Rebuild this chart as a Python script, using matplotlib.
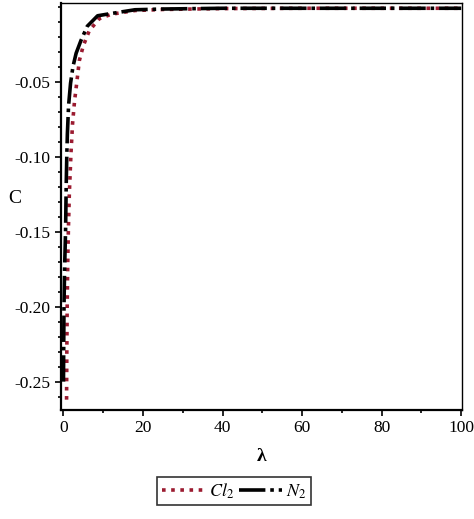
import matplotlib
matplotlib.use("Agg")
import matplotlib.pyplot as plt

# values
lam_cl2 = [0.8, 0.85, 0.95, 1.1, 1.25, 1.5, 1.9, 2.3, 2.8, 3.3, 4.0, 5.0, 6.5,
           9.0, 12.0, 18.0, 25.0, 40.0, 60.0, 80.0, 100.0]
c_cl2 = [-0.262, -0.235, -0.2, -0.17, -0.149, -0.124, -0.098, -0.078, -0.063,
         -0.052, -0.036, -0.026, -0.016, -0.008, -0.005, -0.0025, -0.0018,
         -0.0012, -0.001, -0.001, -0.001]

lam_n2 = [0.02, 0.15, 0.3, 0.55, 0.7, 0.85, 1.0, 1.3, 1.8, 2.4, 3.2, 4.4, 6.0,
          8.6, 12.0, 18.0, 25.0, 40.0, 60.0, 80.0, 100.0]
c_n2 = [-0.25, -0.2, -0.175, -0.149, -0.12, -0.1, -0.085, -0.066, -0.051,
        -0.04, -0.031, -0.0226, -0.013, -0.006, -0.0045, -0.002, -0.0015,
        -0.001, -0.001, -0.001, -0.001]

x_major = [0, 20, 40, 60, 80, 100]
x_minor = [10, 30, 50, 70, 90]
y_major = [-0.25, -0.20, -0.15, -0.10, -0.05]
y_minor = [round(-0.26 + 0.01 * i, 2) for i in range(27)]

plt.rcParams["font.family"] = ["Liberation Serif", "DejaVu Serif"]
plt.rcParams["mathtext.fontset"] = "stix"
plt.rcParams["lines.scale_dashes"] = False

fig = plt.figure(figsize=(4.74, 5.19), dpi=100)
ax = fig.add_axes([0.1287, 0.21, 0.846, 0.7836])

ax.plot(lam_cl2, c_cl2, color="#9b1b30", lw=2.6, dashes=(2.6, 4.0),
        dash_capstyle="butt", label=r"$\mathit{Cl}_2$")
ax.plot(lam_n2, c_n2, color="black", lw=2.6, dashes=(19, 3.5, 2.6, 3.5),
        dash_capstyle="butt", label=r"$\mathit{N}_2$")

ax.set_xlim(-0.6, 100.2)
ax.set_ylim(-0.2689, 0.0023)
ax.set_xticks(x_major)
ax.set_xticks(x_minor, minor=True)
ax.set_yticks(y_major)
ax.set_yticks(y_minor, minor=True)
ax.set_yticklabels([f"{v:.2f}" for v in y_major])
ax.tick_params(which="major", direction="out", length=4, width=1.2, labelsize=12.5)
ax.tick_params(which="minor", direction="out", length=2.5, width=1.2)
for s in ["left", "bottom"]:
    ax.spines[s].set_linewidth(1.6)
for s in ["top", "right"]:
    ax.spines[s].set_linewidth(1.0)

ax.set_xlabel("λ", fontsize=14, fontweight="bold", labelpad=8)
ax.set_ylabel("C", fontsize=14, rotation=0)
ax.yaxis.set_label_coords(-0.115, 0.5)

leg = fig.legend(loc="center", bbox_to_anchor=(234 / 474, 1 - 491 / 519), ncol=2,
                 frameon=True, fancybox=False, edgecolor="black", fontsize=13,
                 handlelength=2.4, columnspacing=0.3, handletextpad=0.2,
                 borderpad=0.25, borderaxespad=0.0)
leg.get_frame().set_linewidth(1.2)

fig.savefig("out.png", dpi=100)
